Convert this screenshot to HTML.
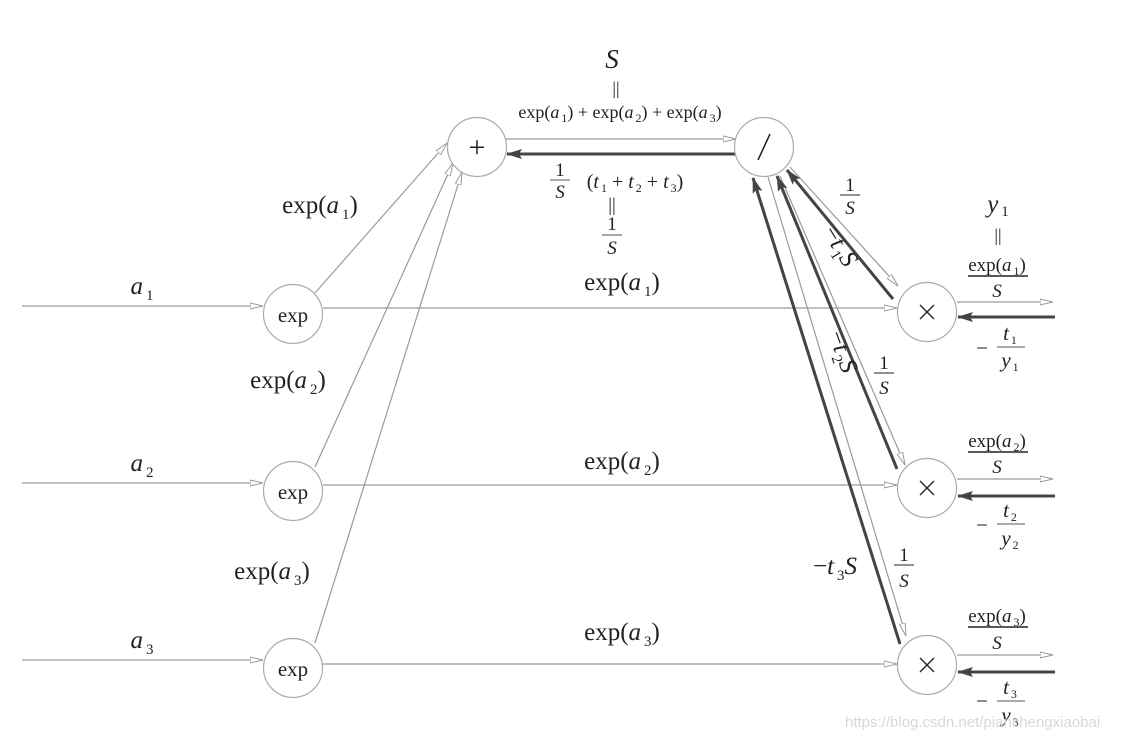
<!DOCTYPE html>
<html><head><meta charset="utf-8"><style>
body{margin:0;background:#fff}
svg{display:block}
text{font-family:"Liberation Serif",serif;fill:#222}
.i{font-style:italic}
.g{fill:#555}
</style></head><body>
<svg width="1124" height="741" viewBox="0 0 1124 741" xmlns="http://www.w3.org/2000/svg">
<defs>
<marker id="la" markerWidth="14" markerHeight="8" refX="13" refY="4" orient="auto" markerUnits="userSpaceOnUse"><path d="M0,1 L13,4 L0,7 Z" fill="#fff" stroke="#999" stroke-width="1"/></marker>
<marker id="da" markerWidth="16" markerHeight="10" refX="15" refY="5" orient="auto" markerUnits="userSpaceOnUse"><path d="M0,0 L16,5 L0,10 L3,5 Z" fill="#444"/></marker>
</defs>
<g stroke="#9a9a9a" stroke-width="1.2" fill="none">
<line x1="22" y1="306" x2="263" y2="306" marker-end="url(#la)"/>
<line x1="22" y1="483" x2="263" y2="483" marker-end="url(#la)"/>
<line x1="22" y1="660" x2="263" y2="660" marker-end="url(#la)"/>
<line x1="323" y1="308" x2="897" y2="308" marker-end="url(#la)"/>
<line x1="323" y1="485" x2="897" y2="485" marker-end="url(#la)"/>
<line x1="323" y1="664" x2="897" y2="664" marker-end="url(#la)"/>
<line x1="315" y1="293" x2="447" y2="143" marker-end="url(#la)"/>
<line x1="315" y1="467" x2="453" y2="163" marker-end="url(#la)"/>
<line x1="315" y1="643" x2="462" y2="172" marker-end="url(#la)"/>
<line x1="506" y1="139" x2="736" y2="139" marker-end="url(#la)"/>
<line x1="790" y1="167" x2="898" y2="286" marker-end="url(#la)"/>
<line x1="780" y1="176" x2="905" y2="465" marker-end="url(#la)"/>
<line x1="768" y1="177" x2="906" y2="636" marker-end="url(#la)"/>
<line x1="957" y1="302" x2="1053" y2="302" marker-end="url(#la)"/>
<line x1="957" y1="479" x2="1053" y2="479" marker-end="url(#la)"/>
<line x1="957" y1="655" x2="1053" y2="655" marker-end="url(#la)"/>
</g>
<g stroke="#444" stroke-width="3" fill="none">
<line x1="736" y1="154" x2="507" y2="154" marker-end="url(#da)"/>
<line x1="893" y1="299" x2="787" y2="170" marker-end="url(#da)"/>
<line x1="897" y1="469" x2="777" y2="176" marker-end="url(#da)"/>
<line x1="900" y1="644" x2="753" y2="178" marker-end="url(#da)"/>
<line x1="1055" y1="317" x2="958" y2="317" marker-end="url(#da)"/>
<line x1="1055" y1="496" x2="958" y2="496" marker-end="url(#da)"/>
<line x1="1055" y1="672" x2="958" y2="672" marker-end="url(#da)"/>
</g>
<g stroke="#aaa" stroke-width="1.2" fill="#fff">
<circle cx="293" cy="314" r="29.5"/><circle cx="293" cy="491" r="29.5"/><circle cx="293" cy="668" r="29.5"/>
<circle cx="477" cy="147" r="29.5"/><circle cx="764" cy="147" r="29.5"/>
<circle cx="927" cy="312" r="29.5"/><circle cx="927" cy="488" r="29.5"/><circle cx="927" cy="665" r="29.5"/>
</g>
<g font-size="21" text-anchor="middle">
<text x="293" y="322">exp</text><text x="293" y="499">exp</text><text x="293" y="676">exp</text>
<text x="477" y="157" font-size="30">+</text>
</g>
<g stroke="#222" stroke-width="1.4">
<path d="M920,305 L934,319 M934,305 L920,319"/>
<path d="M920,481 L934,495 M934,481 L920,495"/>
<path d="M920,658 L934,672 M934,658 L920,672"/>
</g>
<line x1="758" y1="160" x2="770" y2="134" stroke="#222" stroke-width="1.5"/>
<g font-size="25" text-anchor="middle">
<text x="142" y="294"><tspan class="i">a</tspan><tspan dx="3" dy="6" font-size="15">1</tspan></text>
<text x="142" y="471"><tspan class="i">a</tspan><tspan dx="3" dy="6" font-size="15">2</tspan></text>
<text x="142" y="648"><tspan class="i">a</tspan><tspan dx="3" dy="6" font-size="15">3</tspan></text>
<text x="320" y="213">exp(<tspan class="i">a</tspan><tspan dx="3" dy="6" font-size="15">1</tspan><tspan dy="-6">)</tspan></text>
<text x="288" y="388">exp(<tspan class="i">a</tspan><tspan dx="3" dy="6" font-size="15">2</tspan><tspan dy="-6">)</tspan></text>
<text x="272" y="579">exp(<tspan class="i">a</tspan><tspan dx="3" dy="6" font-size="15">3</tspan><tspan dy="-6">)</tspan></text>
<text x="622" y="290">exp(<tspan class="i">a</tspan><tspan dx="3" dy="6" font-size="15">1</tspan><tspan dy="-6">)</tspan></text>
<text x="622" y="469">exp(<tspan class="i">a</tspan><tspan dx="3" dy="6" font-size="15">2</tspan><tspan dy="-6">)</tspan></text>
<text x="622" y="640">exp(<tspan class="i">a</tspan><tspan dx="3" dy="6" font-size="15">3</tspan><tspan dy="-6">)</tspan></text>
<text x="612" y="68" class="i" font-size="27">S</text>
<text x="998" y="212"><tspan class="i">y</tspan><tspan dx="3" dy="4" font-size="15">1</tspan></text>
<text x="835" y="574">−<tspan class="i">t</tspan><tspan dx="3" dy="6" font-size="15">3</tspan><tspan dy="-6" class="i">S</tspan></text>
</g>
<g font-size="18" text-anchor="middle">
<text x="616" y="94">||</text>
<text x="620" y="118">exp(<tspan class="i">a</tspan><tspan dx="2" dy="4" font-size="12">1</tspan><tspan dy="-4">) + exp(</tspan><tspan class="i">a</tspan><tspan dx="2" dy="4" font-size="12">2</tspan><tspan dy="-4">) + exp(</tspan><tspan class="i">a</tspan><tspan dx="2" dy="4" font-size="12">3</tspan><tspan dy="-4">)</tspan></text>
<text x="998" y="241">||</text>
</g>
<g class="g" font-size="19" text-anchor="middle">
<text x="560" y="176">1</text><line x1="550" y1="180" x2="570" y2="180" stroke="#555"/><text x="560" y="198" class="i">S</text>
<text x="635" y="188" font-size="20">(<tspan class="i">t</tspan><tspan dx="2" dy="4" font-size="12">1</tspan><tspan dy="-4"> + </tspan><tspan class="i">t</tspan><tspan dx="2" dy="4" font-size="12">2</tspan><tspan dy="-4"> + </tspan><tspan class="i">t</tspan><tspan dx="2" dy="4" font-size="12">3</tspan><tspan dy="-4">)</tspan></text>
<text x="612" y="211">||</text>
<text x="612" y="230">1</text><line x1="602" y1="235" x2="622" y2="235" stroke="#555"/><text x="612" y="254" class="i">S</text>
</g>
<g font-size="19" text-anchor="middle">
<text x="850" y="191">1</text><line x1="840" y1="195" x2="860" y2="195" stroke="#222"/><text x="850" y="214" class="i">S</text>
<text x="884" y="369">1</text><line x1="874" y1="373" x2="894" y2="373" stroke="#222"/><text x="884" y="394" class="i">S</text>
<text x="904" y="561">1</text><line x1="894" y1="565" x2="914" y2="565" stroke="#222"/><text x="904" y="587" class="i">S</text>
<text x="997" y="271">exp(<tspan class="i">a</tspan><tspan dx="2" dy="4" font-size="12">1</tspan><tspan dy="-4">)</tspan></text><line x1="968" y1="276" x2="1028" y2="276" stroke="#222" stroke-width="1.5"/><text x="997" y="297" class="i">S</text>
<text x="997" y="447">exp(<tspan class="i">a</tspan><tspan dx="2" dy="4" font-size="12">2</tspan><tspan dy="-4">)</tspan></text><line x1="968" y1="452" x2="1028" y2="452" stroke="#222" stroke-width="1.5"/><text x="997" y="473" class="i">S</text>
<text x="997" y="622">exp(<tspan class="i">a</tspan><tspan dx="2" dy="4" font-size="12">3</tspan><tspan dy="-4">)</tspan></text><line x1="968" y1="627" x2="1028" y2="627" stroke="#222" stroke-width="1.5"/><text x="997" y="649" class="i">S</text>
</g>
<g class="g" font-size="21" text-anchor="middle">
<text x="982" y="355">−</text><text x="1010" y="340"><tspan class="i">t</tspan><tspan dx="2" dy="4" font-size="12">1</tspan></text><line x1="997" y1="347" x2="1025" y2="347" stroke="#555"/><text x="1010" y="367"><tspan class="i">y</tspan><tspan dx="2" dy="4" font-size="12">1</tspan></text>
<text x="982" y="532">−</text><text x="1010" y="517"><tspan class="i">t</tspan><tspan dx="2" dy="4" font-size="12">2</tspan></text><line x1="997" y1="524" x2="1025" y2="524" stroke="#555"/><text x="1010" y="545"><tspan class="i">y</tspan><tspan dx="2" dy="4" font-size="12">2</tspan></text>
<text x="982" y="708">−</text><text x="1010" y="694"><tspan class="i">t</tspan><tspan dx="2" dy="4" font-size="12">3</tspan></text><line x1="997" y1="701" x2="1025" y2="701" stroke="#555"/><text x="1010" y="722"><tspan class="i">y</tspan><tspan dx="2" dy="4" font-size="12">3</tspan></text>
</g>
<g class="g" font-size="25">
<text transform="translate(822,232) rotate(58)">−<tspan class="i">t</tspan><tspan dx="2" dy="5" font-size="15">1</tspan><tspan dy="-5" class="i">S</tspan></text>
<text transform="translate(828,334) rotate(70)">−<tspan class="i">t</tspan><tspan dx="2" dy="5" font-size="15">2</tspan><tspan dy="-5" class="i">S</tspan></text>
</g>
<text x="845" y="727" style="font-family:'Liberation Sans',sans-serif;fill:#d8d8d8" font-size="15">https://blog.csdn.net/pianchengxiaobai</text>
</svg>
</body></html>
